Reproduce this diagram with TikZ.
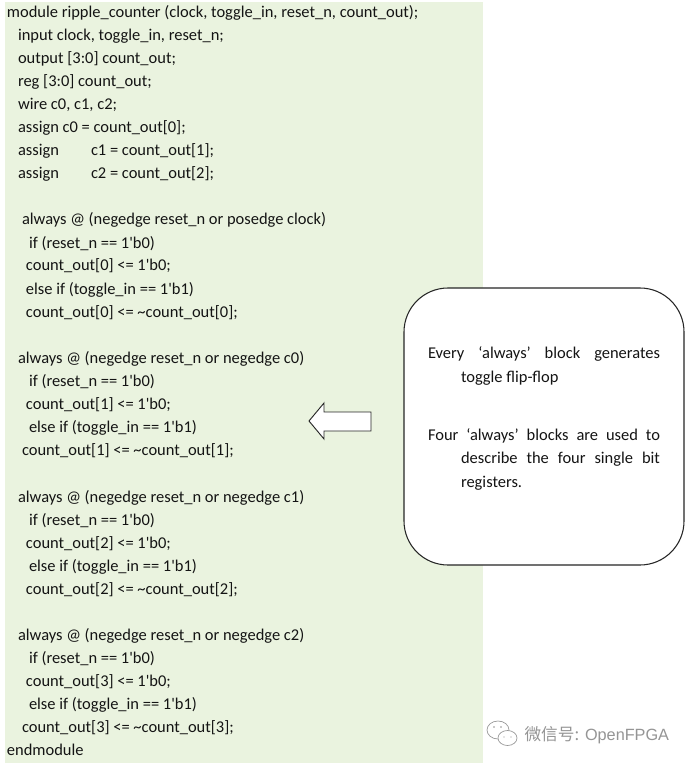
\documentclass[tikz,border=0pt]{standalone}
\usepackage{fontspec}
\newfontfamily\codefont{Carlito}
\setmainfont{Carlito}
\newfontfamily\cjkfont{Noto Sans CJK SC}
\newfontfamily\wmfont{Liberation Sans}
\definecolor{codebg}{HTML}{EAF3DF}
\definecolor{inktext}{HTML}{141414}
\definecolor{wmgray}{HTML}{959595}
\tikzset{
  code/.style={anchor=base west,inner sep=0pt,outer sep=0pt,text=inktext,font=\codefont\fontsize{12.35pt}{14pt}\selectfont},
  note/.style={anchor=base west,inner sep=0pt,outer sep=0pt,text=inktext,font=\codefont\fontsize{12.35pt}{14pt}\selectfont},
  callout/.style={draw=black!85,line width=0.8pt,fill=white,rounded corners=33pt},
  wm/.style={anchor=base west,inner sep=0pt,outer sep=0pt,text=wmgray}
}
\newcommand{\spreadline}[1]{\makebox[#1][s]}
\begin{document}
\begin{tikzpicture}[x=0.75pt,y=-0.75pt]
\useasboundingbox (0,0) rectangle (691,766);
\fill[white] (0,0) rectangle (691,766);
\fill[codebg] (5,2) rectangle (483,763);
% code
\node[code] (l1) at (7,18) {module ripple\_counter (clock, toggle\_in, reset\_n, count\_out);};
\node[code] (l2) at (18,41) {input clock, toggle\_in, reset\_n;};
\node[code] (l3) at (18,64) {output [3:0] count\_out;};
\node[code] (l4) at (18,87) {reg [3:0] count\_out;};
\node[code] (l5) at (18,110) {wire c0, c1, c2;};
\node[code] (l6) at (18,133) {assign c0 = count\_out[0];};
\node[code] (l7a) at (18,156) {assign};
\node[code] (l7b) at (91,156) {c1 = count\_out[1];};
\node[code] (l8a) at (18,179) {assign};
\node[code] (l8b) at (91,179) {c2 = count\_out[2];};
\node[code] (a1) at (22,225) {always @ (negedge reset\_n or posedge clock)};
\node[code] (a2) at (29,248) {if (reset\_n == 1'b0)};
\node[code] (a3) at (26,271) {count\_out[0] <= 1'b0;};
\node[code] (a4) at (26,294) {else if (toggle\_in == 1'b1)};
\node[code] (a5) at (26,317) {count\_out[0] <= \textasciitilde count\_out[0];};
\node[code] (b1) at (18,363) {always @ (negedge reset\_n or negedge c0)};
\node[code] (b2) at (29,386) {if (reset\_n == 1'b0)};
\node[code] (b3) at (26,409) {count\_out[1] <= 1'b0;};
\node[code] (b4) at (29,432) {else if (toggle\_in == 1'b1)};
\node[code] (b5) at (22,455) {count\_out[1] <= \textasciitilde count\_out[1];};
\node[code] (c1) at (18,502) {always @ (negedge reset\_n or negedge c1)};
\node[code] (c2) at (29,525) {if (reset\_n == 1'b0)};
\node[code] (c3) at (26,548) {count\_out[2] <= 1'b0;};
\node[code] (c4) at (29,571) {else if (toggle\_in == 1'b1)};
\node[code] (c5) at (26,594) {count\_out[2] <= \textasciitilde count\_out[2];};
\node[code] (d1) at (18,640.5) {always @ (negedge reset\_n or negedge c2)};
\node[code] (d2) at (29,663) {if (reset\_n == 1'b0)};
\node[code] (d3) at (26,686) {count\_out[3] <= 1'b0;};
\node[code] (d4) at (29,709) {else if (toggle\_in == 1'b1)};
\node[code] (d5) at (22,732) {count\_out[3] <= \textasciitilde count\_out[3];};
\node[code] (l9) at (7,755) {endmodule};
% callout
\draw[callout] (404,288) rectangle (684,565);
\node[note] (n1) at (428,358.5) {\spreadline{174pt}{Every ‘always’ block generates}};
\node[note] (n2) at (461,382) {toggle flip-flop};
\node[note] (n3) at (428,440.5) {\spreadline{174pt}{Four ‘always’ blocks are used to}};
\node[note] (n4) at (461,463.5) {\spreadline{149.25pt}{describe the four single bit}};
\node[note] (n5) at (461,487) {registers.};
% arrow
\draw[black!85,line width=0.7pt,fill=white,line join=miter]
  (371,412) -- (324,412) -- (324,403) -- (309,421) -- (324,439) -- (324,431) -- (371,431) -- cycle;
% watermark
\draw[wmgray,line width=0.5pt,fill=white] (498,730) ellipse (11 and 9);
\fill[wmgray] (494,727) circle (0.8) (501,727) circle (0.8);
\draw[wmgray,line width=0.5pt,fill=white] (507.5,738) ellipse (9.5 and 7.5);
\fill[wmgray] (504,737) circle (0.7) (511,737) circle (0.7);
\node[wm,font=\cjkfont\fontsize{12.5pt}{14pt}\selectfont] (w1) at (524.5,740) {微信号:};
\node[wm,font=\wmfont\fontsize{12.2pt}{14pt}\selectfont] (w2) at (585,740) {OpenFPGA};
\end{tikzpicture}
\end{document}
